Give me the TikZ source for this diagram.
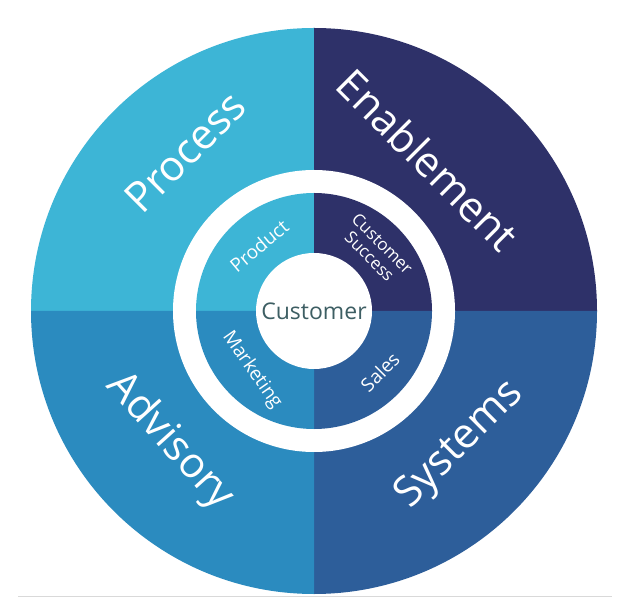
\documentclass[tikz,border=0pt]{standalone}
\usepackage{fontspec}
\setmainfont{Open Sans}
\definecolor{cP}{HTML}{3DB5D6}
\definecolor{cE}{HTML}{2E3169}
\definecolor{cA}{HTML}{2B8BBF}
\definecolor{cS}{HTML}{2D5E9A}
\definecolor{cT}{HTML}{3D5E63}
\begin{document}
\begin{tikzpicture}[x=1pt,y=1pt,
  big/.style={text=white,font=\fontsize{42}{46}\selectfont},
  small/.style={text=white,font=\fontsize{19}{20}\selectfont,align=center}]
\useasboundingbox (0,0) rectangle (634,600);
\fill[white] (0,0) rectangle (634,600);
\coordinate (c) at (314,289);
\foreach \col/\a in {cP/90,cE/0,cS/-90,cA/180}{
  \fill[\col] (c) -- ++(\a:283) arc[start angle=\a,delta angle=90,radius=283] -- cycle;}
\fill[white] (c) circle[radius=141];
\foreach \col/\a in {cP/90,cE/0,cS/-90,cA/180}{
  \fill[\col] (c) -- ++(\a:118) arc[start angle=\a,delta angle=90,radius=118] -- cycle;}
\fill[white] (c) circle[radius=58];
\draw[gray!30,line width=1pt] (18,4) -- (612,4);
\node[big,rotate=45] (process) at (185,448) {Process};
\node[big,rotate=-45] (enable) at (428,440) {Enablement};
\node[big,rotate=-48] (advisory) at (170,158) {Advisory};
\node[big,rotate=45] (systems) at (460,155) {Systems};
\node[small,rotate=40] (product) at (259,354) {Product};
\node[small,rotate=-45,font=\fontsize{17}{18}\selectfont] (cs) at (376,350) {Customer\\Success};
\node[small,rotate=-55] (mkt) at (252,230) {Marketing};
\node[small,rotate=45] (sales) at (380,228) {Sales};
\node[text=cT,font=\fontsize{23}{26}\selectfont] (cust) at (c) {Customer};
\end{tikzpicture}
\end{document}
